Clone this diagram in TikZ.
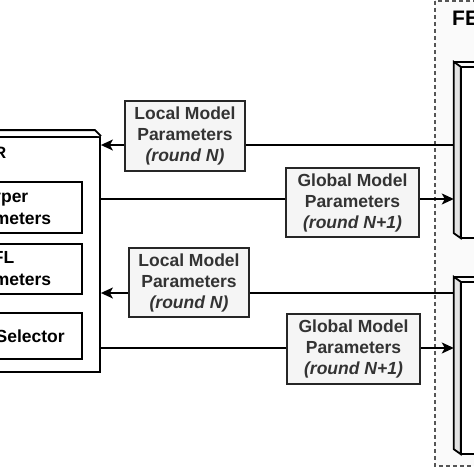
\documentclass[tikz,border=0pt]{standalone}
\usepackage{fontspec}
\setmainfont{Liberation Sans}
\usetikzlibrary{calc,arrows.meta}
\definecolor{lblfill}{HTML}{F5F5F5}
\definecolor{lbltext}{HTML}{333333}
\definecolor{sideface}{HTML}{E3E3E3}
\definecolor{dashcol}{HTML}{555555}

\begin{document}
\begin{tikzpicture}[x=1pt,y=-1pt,
    box/.style={draw=black,line width=1.8pt,fill=white,inner sep=0pt},
    lbl/.style={draw=black!85,line width=1.4pt,fill=lblfill,text=lbltext,inner sep=0pt,
        font=\bfseries\fontsize{17.5}{21}\selectfont,align=center,minimum height=70pt},
    arr/.style={line width=1.5pt,-{Stealth[length=12pt,width=11pt,inset=3pt]}},
    line/.style={line width=1.5pt}]
    \useasboundingbox (0,0) rectangle (474,474);
    \clip (0,0) rectangle (474,474);
    % clients area
    \draw[dashcol,line width=1.2pt,dash pattern=on 4pt off 3pt,fill=gray!4] (435,1) rectangle (530,466);
    \node[anchor=base west,inner sep=0pt,font=\bfseries\fontsize{21}{24}\selectfont] (cltitle) at (452,25) {FEDERATED CLIENTS};
    % clients
    \node[minimum width=120pt,minimum height=176pt,inner sep=0pt] (clientA) at (514,150) {};
    \node[minimum width=120pt,minimum height=177pt,inner sep=0pt] (clientB) at (514,365.5) {};
    \draw[box] (clientA.north west) -- (clientA.north east);
    \draw[box,fill=sideface] (clientA.north west) -- ++(7,5) -- ($(clientA.south west)+(7,0)$) -- ($(clientA.south west)+(0,-5)$) -- cycle;
    \draw[box] ($(clientA.north west)+(7,5)$) rectangle (clientA.south east);
    \draw[box] (clientB.north west) -- (clientB.north east);
    \draw[box,fill=sideface] (clientB.north west) -- ++(7,5) -- ($(clientB.south west)+(7,0)$) -- ($(clientB.south west)+(0,-5)$) -- cycle;
    \draw[box] ($(clientB.north west)+(7,5)$) rectangle (clientB.south east);
    % server
    \node[box,minimum width=195pt,minimum height=235pt] (server) at (2.5,254.5) {};
    \draw[box] ($(server.north west)+(-6,-6)$) -- ($(server.north east)+(-6,-6)$) -- (server.north east);
    \node[anchor=base east,inner sep=0pt,font=\bfseries\fontsize{16.5}{20}\selectfont] (srvtitle) at (6.5,158) {FL SERVER};
    \node[box,minimum width=157pt,minimum height=51pt,align=center,font=\bfseries\fontsize{17.5}{22}\selectfont] (hyper) at (3.5,207.5) {Hyper\\Parameters};
    \node[box,minimum width=157pt,minimum height=50pt,align=center,font=\bfseries\fontsize{17.5}{22}\selectfont] (flpar) at (3.5,269) {FL\\Parameters};
    \node[box,minimum width=157pt,minimum height=46pt,font=\bfseries\fontsize{17.5}{21}\selectfont] (selector) at (3.5,336) {Client Selector};
    % connectors
    \coordinate (lA) at (0,145);
    \coordinate (gA) at (0,199);
    \coordinate (lB) at (0,293);
    \coordinate (gB) at (0,348);
    \draw[arr] (clientA.west |- lA) -- (server.east |- lA);
    \draw[arr] (server.east |- gA) -- (clientA.west |- gA);
    \draw[arr] (clientB.west |- lB) -- (server.east |- lB);
    \draw[arr] (server.east |- gB) -- (clientB.west |- gB);
    % labels
    \node[lbl,minimum width=120pt] (localA) at (185,136) {Local Model\\Parameters\\\textit{(round N)}};
    \node[lbl,minimum width=133pt,minimum height=69pt] (globalA) at (352.5,202.5) {Global Model\\Parameters\\\textit{(round N+1)}};
    \node[lbl,minimum width=120pt,minimum height=69pt] (localB) at (189,282.5) {Local Model\\Parameters\\\textit{(round N)}};
    \node[lbl,minimum width=133pt] (globalB) at (353.5,349) {Global Model\\Parameters\\\textit{(round N+1)}};
\end{tikzpicture}
\end{document}
